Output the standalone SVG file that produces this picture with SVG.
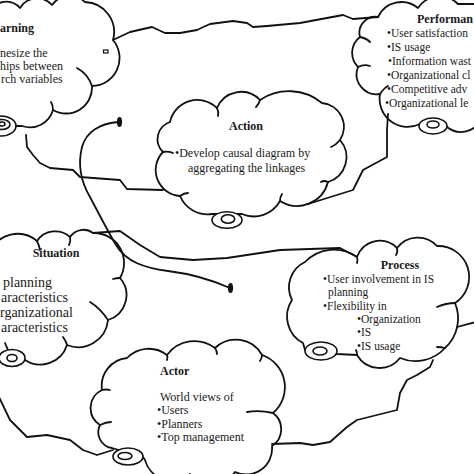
<svg xmlns="http://www.w3.org/2000/svg" width="474" height="474" viewBox="0 0 474 474">
<style>
.c{fill:#fff;stroke:#111;stroke-width:1.8;stroke-linejoin:round}
.k{fill:none;stroke:#111;stroke-width:1.8;stroke-linecap:round;stroke-linejoin:round}
.sp{fill:#fff;stroke:#111;stroke-width:1.6}
.t{font-family:"Liberation Serif","Times New Roman",serif;font-size:12px;fill:#1a1a1a}
.b{font-weight:bold}
.m{text-anchor:middle}
.s14{font-size:14px}
.s11{font-size:11.5px}
.dot{fill:#111}
</style>
<rect width="474" height="474" fill="#fff"/>

<g id="learning">
<path class="c" d="M-10,12 A18 18 0 0 1 20,8 A20 20 0 0 1 52,5 A22 22 0 0 1 85,2 A30 30 0 0 1 113,40 A28 28 0 0 1 92,86 A26 26 0 0 1 53,110 A24 24 0 0 1 22,126 L-10,126 Z"/>
<path class="k" d="M92,86 Q88,74 77,68 M53,110 Q53,105 51,102"/>
<rect x="103.5" y="50" width="4.5" height="3" fill="none" stroke="#111" stroke-width="1.2"/>
<ellipse class="sp" cx="1" cy="126" rx="15" ry="10"/>
<ellipse class="sp" cx="2" cy="124.5" rx="8" ry="5"/>
<ellipse class="sp" cx="2" cy="124" rx="3" ry="2"/>
<text class="t b" x="0" y="32">arning</text>
<text class="t" x="0" y="57">nesize the</text>
<text class="t" x="0" y="70">hips between</text>
<text class="t" x="1" y="83">rch variables</text>
</g>

<g id="performance">
<path class="c" d="M378,17 A26 26 0 0 1 418,8 A26 26 0 0 1 458,4 L480,4 L480,121 A22 22 0 0 1 447,127 L420,124 A28 28 0 0 1 380,94 A20 20 0 0 1 358,67 A20 20 0 0 1 360,37 A16 16 0 0 1 378,17 Z"/>
<path class="k" d="M358,67 Q364,64 370,66 M380,94 Q384,88 388,86 M360,37 Q366,38 370,42"/>
<ellipse class="sp" cx="433" cy="126" rx="14" ry="8"/>
<ellipse class="sp" cx="433" cy="124.5" rx="6" ry="3.5"/>
<text class="t b" x="417" y="23">Performan</text>
<text class="t s11" x="387" y="37">•User  satisfaction</text>
<text class="t s11" x="387" y="51">•IS usage</text>
<text class="t s11" x="388" y="65">•Information wast</text>
<text class="t s11" x="387" y="79">•Organizational cl</text>
<text class="t s11" x="387" y="93">•Competitive adv</text>
<text class="t s11" x="385" y="107">•Organizational le</text>
</g>

<g id="action">
<path class="c" d="M212,214 A30 30 0 0 1 180,196 A26 26 0 0 1 163,152 A18 18 0 0 1 170,122 A28 28 0 0 1 217,108 A26 26 0 0 1 260,100 A52 52 0 0 1 322,103 A24 24 0 0 1 340,140 A26 26 0 0 1 328,182 A32 32 0 0 1 280,201 A30 30 0 0 1 242,214 Z"/>
<path class="k" d="M217,108 Q219,112 218,116 M260,100 Q259,104 256,107 M340,140 Q336,145 331,147 M280,201 Q280,197 282,194 M163,152 Q168,151 173,153 M328,182 Q324,180 321,182 M180,196 Q184,193 188,193"/>
<ellipse class="sp" cx="227" cy="220" rx="15" ry="8.3"/>
<ellipse class="sp" cx="228" cy="219" rx="6.7" ry="4.2"/>
<text class="t b m" x="246" y="130">Action</text>
<text class="t" x="175" y="157">•Develop causal diagram by</text>
<text class="t" x="188" y="172">aggregating the linkages</text>
</g>

<g id="situation">
<path class="c" d="M-10,252 A30 30 0 0 1 37,241 A22 22 0 0 1 70,237 A16 16 0 0 1 93,233 A30 30 0 0 1 120,278 A26 26 0 0 1 108,320 A30 30 0 0 1 67,345 A28 28 0 0 1 25,360 L-10,360 Z"/>
<path class="k" d="M37,241 Q39,245 40,250 M70,237 Q71,241 69,245 M120,278 Q116,278 113,279 M108,320 Q100,308 90,302 M67,345 Q66,341 63,337 M5,343 L8,350"/>
<ellipse class="sp" cx="12" cy="358" rx="13" ry="8.5"/>
<ellipse class="sp" cx="12" cy="358" rx="5" ry="3.5"/>
<text class="t b m" x="56" y="257">Situation</text>
<text class="t s14" x="3" y="287">planning</text>
<text class="t s14" x="1" y="302">aracteristics</text>
<text class="t s14" x="0" y="317">rganizational</text>
<text class="t s14" x="1" y="332">aracteristics</text>
</g>

<g id="process">
<path class="c" d="M305,350 L303,343 A30 30 0 0 1 292,300 A28 28 0 0 1 305,262 A40 40 0 0 1 357,257 A24 24 0 0 1 397,248 A26 26 0 0 1 437,246 A31 31 0 0 1 455,303 A40 40 0 0 1 445,348 A40 40 0 0 1 400,358 A26 26 0 0 1 357,355 L337,354 Z"/>
<path class="k" d="M357,257 Q358,260 357,263 M397,248 Q398,252 396,255 M455,303 Q446,303 437,307 M445,348 Q441,347 437,347 M357,355 Q357,352 356,350"/>
<ellipse class="sp" cx="321" cy="351" rx="16" ry="9"/>
<ellipse class="sp" cx="320" cy="351" rx="7" ry="4"/>
<text class="t b m" x="400" y="269">Process</text>
<text class="t s11" x="323" y="283">•User involvement in IS</text>
<text class="t s11" x="328" y="296">planning</text>
<text class="t s11" x="323" y="309.5">•Flexibility  in</text>
<text class="t s11" x="357" y="323">•Organization</text>
<text class="t s11" x="357" y="336">•IS</text>
<text class="t s11" x="357" y="349.5">•IS usage</text>
</g>

<g id="actor">
<path class="c" d="M112,448 A16 16 0 0 1 100,425 A20 20 0 0 1 102,390 A28 28 0 0 1 127,358 A30 30 0 0 1 167,355 A34 34 0 0 1 215,348 A30 30 0 0 1 262,355 A34 34 0 0 1 273,413 A20 20 0 0 1 272,446 A26 26 0 0 1 235,472 A28 28 0 0 1 190,474 A28 28 0 0 1 145,460 L143,457 Z"/>
<path class="k" d="M100,425 Q106,422 111,422 M102,390 Q106,389 110,390 M167,355 Q168,357 167,360 M215,348 Q217,351 217,354 M262,355 Q262,358 260,361 M273,413 Q260,410 247,412"/>
<ellipse class="sp" cx="128" cy="456.5" rx="15" ry="8.5"/>
<ellipse class="sp" cx="125" cy="456" rx="7" ry="3.5"/>
<text class="t b" x="160" y="375">Actor</text>
<text class="t" x="160" y="401">World views of</text>
<text class="t" x="157" y="414">•Users</text>
<text class="t" x="157" y="428">•Planners</text>
<text class="t" x="157" y="441">•Top management</text>
</g>

<g id="connectors">
<path class="k" d="M113,40 L130,32 L152,27 L165,33 L180,33 L197,30 L210,24 L233,21 L247,23 L253,27 L267,26 L300,23 L343,15 L353,19 L378,17"/>
<path class="k" d="M26,135 L27,147 L33,155 L40,163 L50,168 L73,170 L80,177 L120,180 L127,189 L163,190"/>
<path class="k" d="M119,122 C100,123 86,132 82,147 C78,163 80,180 90,197 C98,212 106,228 116,245 C126,262 145,268 168,271 C192,274 212,280 230,288"/>
<path class="k" d="M93,233 L120,231 L140,245 L160,257 L193,260 L227,258 L280,250 L340,248 L357,257"/>
<path class="k" d="M308,204 L353,190 L363,170 L387,157 L387,130 L388,114"/>
<path class="k" d="M272,444 L300,443 L313,445 L330,442 L347,427 L357,420 L397,410 L400,393 L407,380 L417,375 L430,367 L433,360"/>
<path class="k" d="M-2,395 L10,420 L27,437 L47,435 L70,440 L83,450 L97,455 L113,450"/>
<path class="k" d="M457,327 L476,322"/>
<ellipse class="dot" cx="119.5" cy="122" rx="2.6" ry="5"/>
<ellipse class="dot" cx="230.5" cy="288" rx="2.6" ry="5"/>
</g>
</svg>
